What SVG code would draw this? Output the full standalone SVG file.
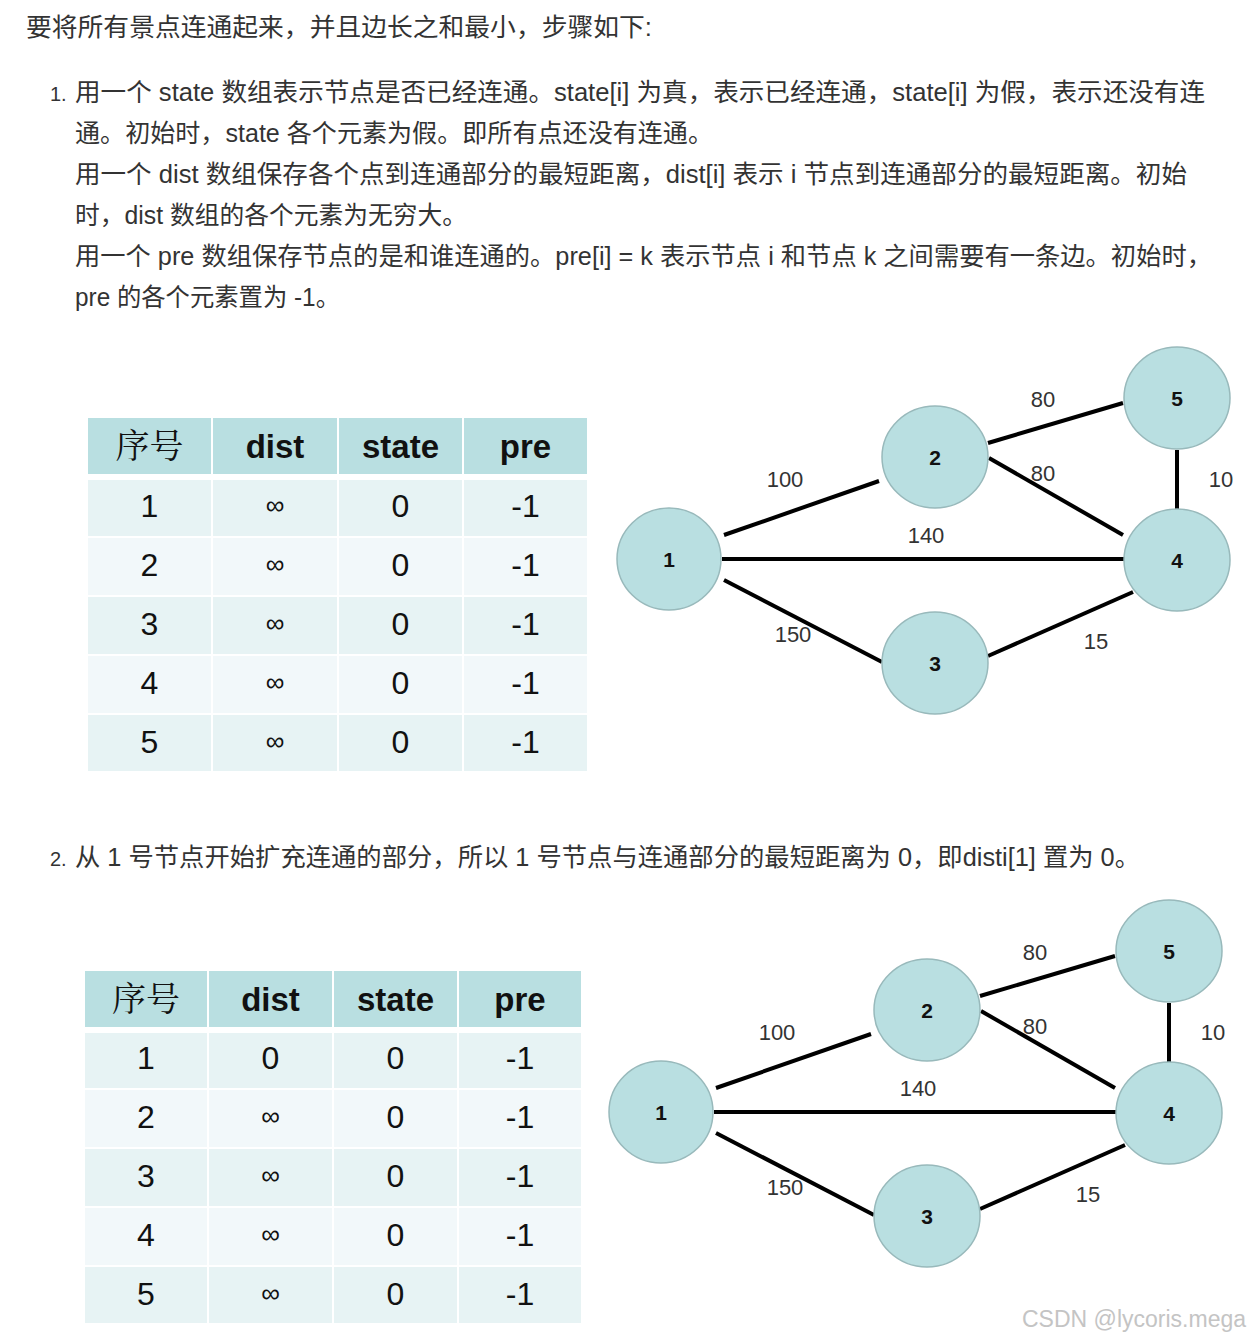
<svg xmlns="http://www.w3.org/2000/svg" width="1251" height="1340" viewBox="0 0 1251 1340">
<style>
.p{font-family:"Liberation Sans","Noto Sans CJK SC",sans-serif;font-size:25px;fill:#333}
.m{font-family:"Liberation Sans",sans-serif;font-size:20px;fill:#333}
.hd{fill:#b9dfe1}
.r1{fill:#e7f3f4}
.r2{fill:#f2f8fa}
.th{font-family:"Liberation Sans",sans-serif;font-size:33px;font-weight:bold;fill:#111;text-anchor:middle}
.thc{font-family:"Noto Serif CJK SC","Noto Sans CJK SC",serif;font-size:34px;fill:#111;text-anchor:middle}
.td{font-family:"Liberation Sans",sans-serif;font-size:32px;fill:#111;text-anchor:middle}
.inf{font-family:"Liberation Sans",sans-serif;font-size:26px;fill:#111;text-anchor:middle}
.nd{fill:#b9dfe1;stroke:#98b9bb;stroke-width:1.5}
.nl{font-family:"Liberation Sans",sans-serif;font-size:21px;font-weight:bold;fill:#111;text-anchor:middle}
.el{font-family:"Liberation Sans",sans-serif;font-size:22px;fill:#333;text-anchor:middle}
.e{stroke:#000;stroke-width:4;fill:none}
.wm{font-family:"Liberation Sans",sans-serif;font-size:23px;fill:#c4c4c4}
</style>
<rect width="1251" height="1340" fill="#fff"/>

<g id="text">
<text class="p" x="26" y="36" textLength="626" lengthAdjust="spacingAndGlyphs">要将所有景点连通起来，并且边长之和最小，步骤如下:</text>
<text class="m" x="50" y="101">1.</text>
<text class="p" x="75" y="101" textLength="1130" lengthAdjust="spacingAndGlyphs">用一个 state 数组表示节点是否已经连通。state[i] 为真，表示已经连通，state[i] 为假，表示还没有连</text>
<text class="p" x="75" y="142" textLength="638" lengthAdjust="spacingAndGlyphs">通。初始时，state 各个元素为假。即所有点还没有连通。</text>
<text class="p" x="75" y="183" textLength="1112" lengthAdjust="spacingAndGlyphs">用一个 dist 数组保存各个点到连通部分的最短距离，dist[i] 表示 i 节点到连通部分的最短距离。初始</text>
<text class="p" x="75" y="224" textLength="392" lengthAdjust="spacingAndGlyphs">时，dist 数组的各个元素为无穷大。</text>
<text class="p" x="75" y="265" textLength="1137" lengthAdjust="spacingAndGlyphs">用一个 pre 数组保存节点的是和谁连通的。pre[i] = k 表示节点 i 和节点 k 之间需要有一条边。初始时，</text>
<text class="p" x="75" y="306" textLength="265" lengthAdjust="spacingAndGlyphs">pre 的各个元素置为 -1。</text>
<text class="m" x="50" y="866">2.</text>
<text class="p" x="75" y="866" textLength="1065" lengthAdjust="spacingAndGlyphs">从 1 号节点开始扩充连通的部分，所以 1 号节点与连通部分的最短距离为 0，即disti[1] 置为 0。</text>
</g>

<g id="table1">
<rect class="hd" x="88" y="418" width="123" height="56"/>
<rect class="hd" x="213" y="418" width="124" height="56"/>
<rect class="hd" x="339" y="418" width="123" height="56"/>
<rect class="hd" x="464" y="418" width="123" height="56"/>
<text class="thc" x="149.5" y="458">序号</text>
<text class="th" x="275" y="458">dist</text>
<text class="th" x="400.5" y="458">state</text>
<text class="th" x="525.5" y="458">pre</text>
<g>
<rect class="r1" x="88" y="480" width="123" height="56"/><rect class="r1" x="213" y="480" width="124" height="56"/><rect class="r1" x="339" y="480" width="123" height="56"/><rect class="r1" x="464" y="480" width="123" height="56"/>
<rect class="r2" x="88" y="538" width="123" height="57"/><rect class="r2" x="213" y="538" width="124" height="57"/><rect class="r2" x="339" y="538" width="123" height="57"/><rect class="r2" x="464" y="538" width="123" height="57"/>
<rect class="r1" x="88" y="597" width="123" height="57"/><rect class="r1" x="213" y="597" width="124" height="57"/><rect class="r1" x="339" y="597" width="123" height="57"/><rect class="r1" x="464" y="597" width="123" height="57"/>
<rect class="r2" x="88" y="656" width="123" height="57"/><rect class="r2" x="213" y="656" width="124" height="57"/><rect class="r2" x="339" y="656" width="123" height="57"/><rect class="r2" x="464" y="656" width="123" height="57"/>
<rect class="r1" x="88" y="715" width="123" height="56"/><rect class="r1" x="213" y="715" width="124" height="56"/><rect class="r1" x="339" y="715" width="123" height="56"/><rect class="r1" x="464" y="715" width="123" height="56"/>
</g>
<text class="td" x="149.5" y="517">1</text><text class="inf" x="275" y="514">∞</text><text class="td" x="400.5" y="517">0</text><text class="td" x="525.5" y="517">-1</text>
<text class="td" x="149.5" y="576">2</text><text class="inf" x="275" y="573">∞</text><text class="td" x="400.5" y="576">0</text><text class="td" x="525.5" y="576">-1</text>
<text class="td" x="149.5" y="635">3</text><text class="inf" x="275" y="632">∞</text><text class="td" x="400.5" y="635">0</text><text class="td" x="525.5" y="635">-1</text>
<text class="td" x="149.5" y="694">4</text><text class="inf" x="275" y="691">∞</text><text class="td" x="400.5" y="694">0</text><text class="td" x="525.5" y="694">-1</text>
<text class="td" x="149.5" y="753">5</text><text class="inf" x="275" y="750">∞</text><text class="td" x="400.5" y="753">0</text><text class="td" x="525.5" y="753">-1</text>
</g>

<g id="graph1">
<g id="connectors1">
<line class="e" x1="724" y1="535" x2="879" y2="481"/>
<line class="e" x1="988" y1="443" x2="1123" y2="403"/>
<line class="e" x1="989" y1="458" x2="1123" y2="535"/>
<line class="e" x1="1177" y1="450" x2="1177" y2="509"/>
<line class="e" x1="722" y1="559" x2="1125" y2="559"/>
<line class="e" x1="724" y1="580" x2="882" y2="662"/>
<line class="e" x1="988" y1="656" x2="1133" y2="592"/>
<text class="el" x="785" y="487">100</text>
<text class="el" x="1043" y="407">80</text>
<text class="el" x="1043" y="481">80</text>
<text class="el" x="1221" y="487">10</text>
<text class="el" x="926" y="543">140</text>
<text class="el" x="793" y="642">150</text>
<text class="el" x="1096" y="649">15</text>
</g>
<g id="g1n1"><ellipse class="nd" cx="669" cy="559" rx="52" ry="51"/><text class="nl" x="669" y="567">1</text></g>
<g id="g1n2"><ellipse class="nd" cx="935" cy="457" rx="53" ry="51"/><text class="nl" x="935" y="465">2</text></g>
<g id="g1n3"><ellipse class="nd" cx="935" cy="663" rx="53" ry="51"/><text class="nl" x="935" y="671">3</text></g>
<g id="g1n4"><ellipse class="nd" cx="1177" cy="560" rx="53" ry="51"/><text class="nl" x="1177" y="568">4</text></g>
<g id="g1n5"><ellipse class="nd" cx="1177" cy="398" rx="53" ry="51"/><text class="nl" x="1177" y="406">5</text></g>
</g>

<g id="table2">
<rect class="hd" x="85" y="971" width="122" height="56"/>
<rect class="hd" x="209" y="971" width="123" height="56"/>
<rect class="hd" x="334" y="971" width="123" height="56"/>
<rect class="hd" x="459" y="971" width="122" height="56"/>
<text class="thc" x="146" y="1011">序号</text>
<text class="th" x="270.5" y="1011">dist</text>
<text class="th" x="395.5" y="1011">state</text>
<text class="th" x="520" y="1011">pre</text>
<g>
<rect class="r1" x="85" y="1033" width="122" height="55"/><rect class="r1" x="209" y="1033" width="123" height="55"/><rect class="r1" x="334" y="1033" width="123" height="55"/><rect class="r1" x="459" y="1033" width="122" height="55"/>
<rect class="r2" x="85" y="1090" width="122" height="57"/><rect class="r2" x="209" y="1090" width="123" height="57"/><rect class="r2" x="334" y="1090" width="123" height="57"/><rect class="r2" x="459" y="1090" width="122" height="57"/>
<rect class="r1" x="85" y="1149" width="122" height="57"/><rect class="r1" x="209" y="1149" width="123" height="57"/><rect class="r1" x="334" y="1149" width="123" height="57"/><rect class="r1" x="459" y="1149" width="122" height="57"/>
<rect class="r2" x="85" y="1208" width="122" height="57"/><rect class="r2" x="209" y="1208" width="123" height="57"/><rect class="r2" x="334" y="1208" width="123" height="57"/><rect class="r2" x="459" y="1208" width="122" height="57"/>
<rect class="r1" x="85" y="1267" width="122" height="56"/><rect class="r1" x="209" y="1267" width="123" height="56"/><rect class="r1" x="334" y="1267" width="123" height="56"/><rect class="r1" x="459" y="1267" width="122" height="56"/>
</g>
<text class="td" x="146" y="1069">1</text><text class="td" x="270.5" y="1069">0</text><text class="td" x="395.5" y="1069">0</text><text class="td" x="520" y="1069">-1</text>
<text class="td" x="146" y="1128">2</text><text class="inf" x="270.5" y="1125">∞</text><text class="td" x="395.5" y="1128">0</text><text class="td" x="520" y="1128">-1</text>
<text class="td" x="146" y="1187">3</text><text class="inf" x="270.5" y="1184">∞</text><text class="td" x="395.5" y="1187">0</text><text class="td" x="520" y="1187">-1</text>
<text class="td" x="146" y="1246">4</text><text class="inf" x="270.5" y="1243">∞</text><text class="td" x="395.5" y="1246">0</text><text class="td" x="520" y="1246">-1</text>
<text class="td" x="146" y="1305">5</text><text class="inf" x="270.5" y="1302">∞</text><text class="td" x="395.5" y="1305">0</text><text class="td" x="520" y="1305">-1</text>
</g>

<g id="graph2" transform="translate(-8,553)">
<g id="connectors2">
<line class="e" x1="724" y1="535" x2="879" y2="481"/>
<line class="e" x1="988" y1="443" x2="1123" y2="403"/>
<line class="e" x1="989" y1="458" x2="1123" y2="535"/>
<line class="e" x1="1177" y1="450" x2="1177" y2="509"/>
<line class="e" x1="722" y1="559" x2="1125" y2="559"/>
<line class="e" x1="724" y1="580" x2="882" y2="662"/>
<line class="e" x1="988" y1="656" x2="1133" y2="592"/>
<text class="el" x="785" y="487">100</text>
<text class="el" x="1043" y="407">80</text>
<text class="el" x="1043" y="481">80</text>
<text class="el" x="1221" y="487">10</text>
<text class="el" x="926" y="543">140</text>
<text class="el" x="793" y="642">150</text>
<text class="el" x="1096" y="649">15</text>
</g>
<g id="g2n1"><ellipse class="nd" cx="669" cy="559" rx="52" ry="51"/><text class="nl" x="669" y="567">1</text></g>
<g id="g2n2"><ellipse class="nd" cx="935" cy="457" rx="53" ry="51"/><text class="nl" x="935" y="465">2</text></g>
<g id="g2n3"><ellipse class="nd" cx="935" cy="663" rx="53" ry="51"/><text class="nl" x="935" y="671">3</text></g>
<g id="g2n4"><ellipse class="nd" cx="1177" cy="560" rx="53" ry="51"/><text class="nl" x="1177" y="568">4</text></g>
<g id="g2n5"><ellipse class="nd" cx="1177" cy="398" rx="53" ry="51"/><text class="nl" x="1177" y="406">5</text></g>
</g>

<text class="wm" x="1022" y="1327">CSDN @lycoris.mega</text>
</svg>
